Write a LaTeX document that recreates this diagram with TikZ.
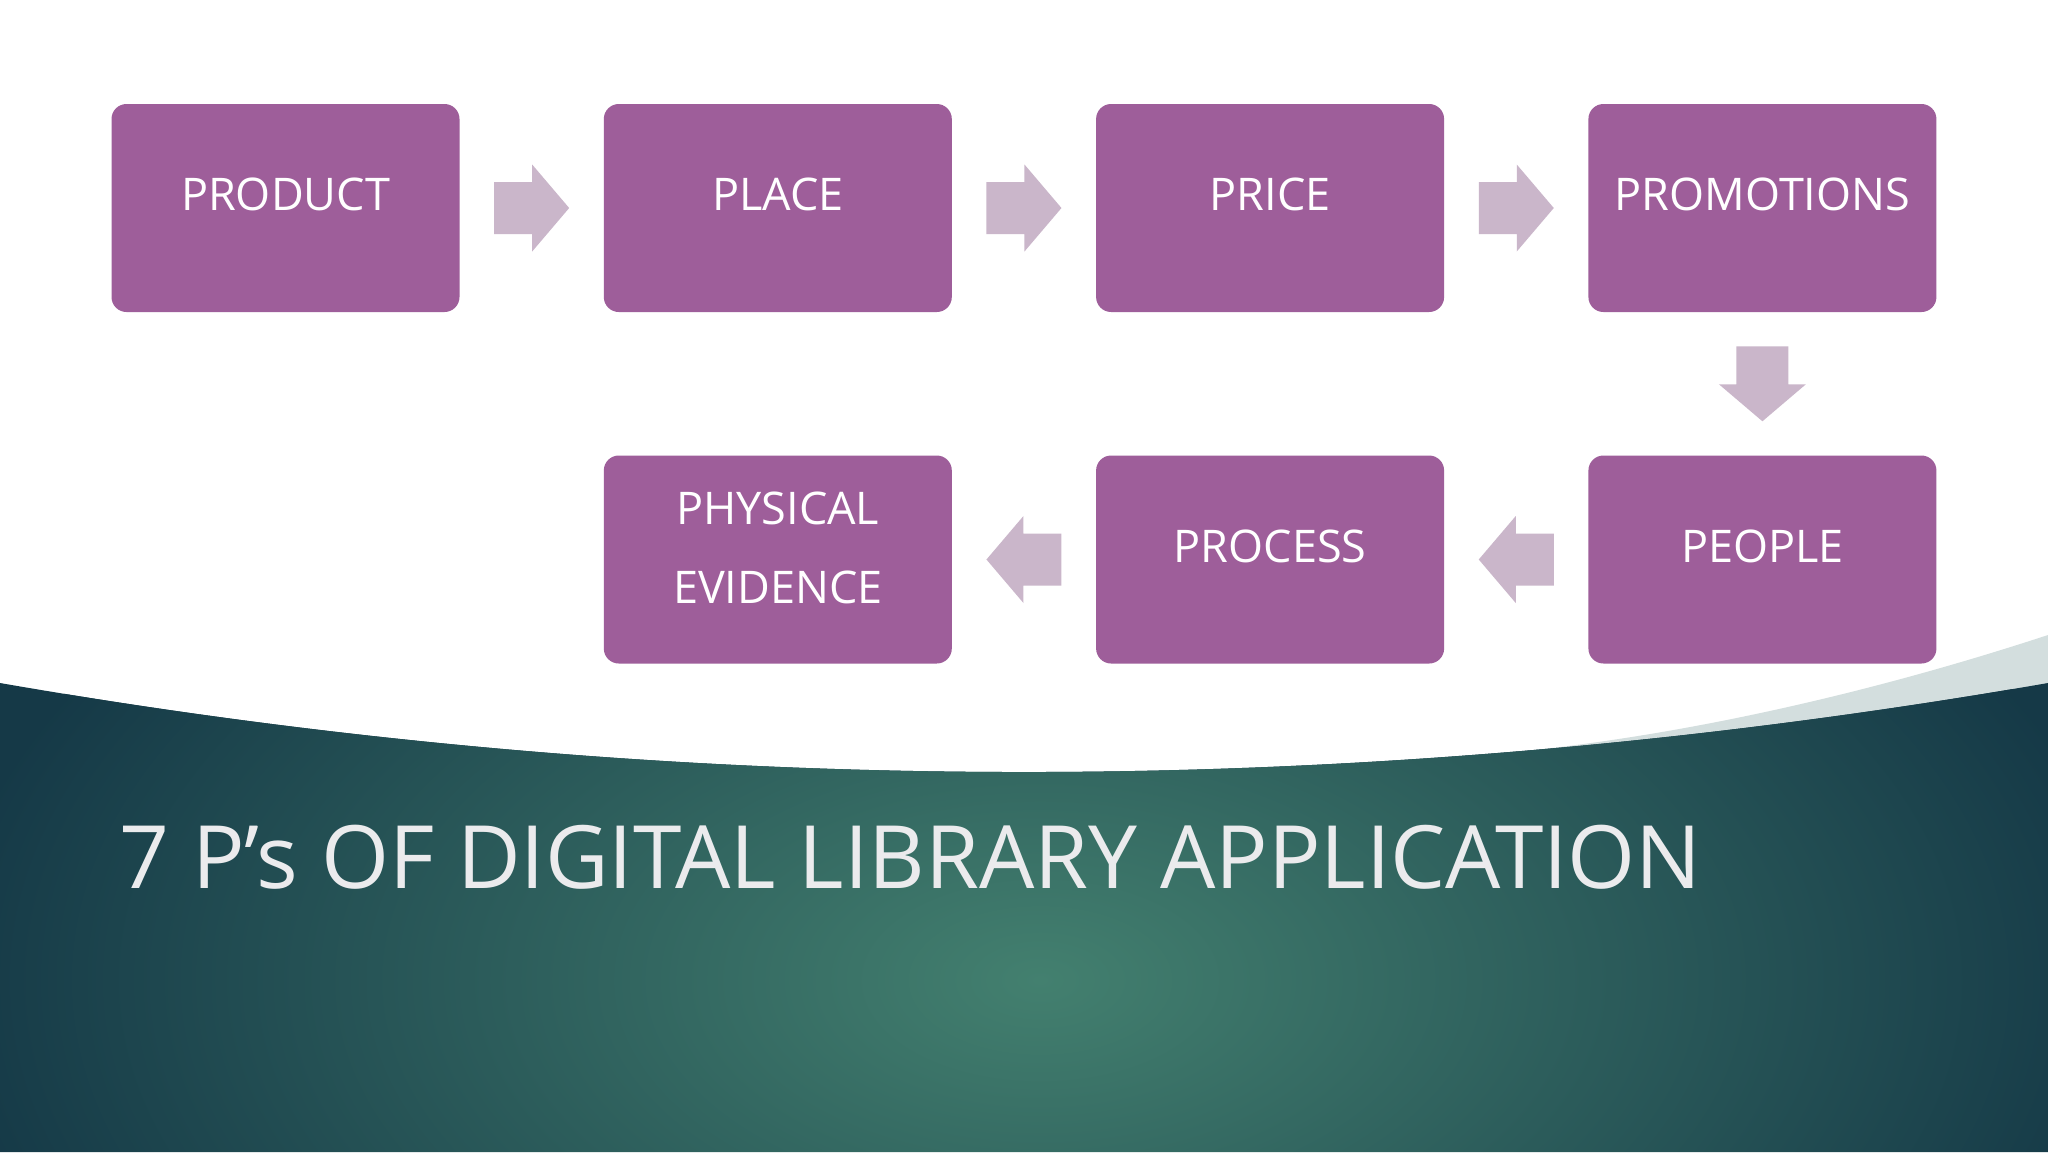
\documentclass[tikz,border=0pt]{standalone}
\usepackage{fontspec}
\setmainfont{Open Sans}
\usetikzlibrary{calc}
\definecolor{boxc}{HTML}{9E5E9A}
\definecolor{arrc}{HTML}{CAB6CA}
\definecolor{tealdark}{HTML}{153947}
\definecolor{teallight}{HTML}{43806F}
\definecolor{bandc}{HTML}{D3DEDE}
\definecolor{titlec}{HTML}{EBEBED}
\tikzset{
  pbox/.style={fill=boxc, rounded corners=7.5pt, minimum width=174pt, minimum height=104pt, inner sep=0pt},
  plabel/.style={text=white, font=\fontsize{22.5}{39.5}\selectfont, align=center, inner sep=0pt},
  parrow/.style={fill=arrc},
  ptitle/.style={text=titlec, font=\fontsize{43.7}{50}\selectfont, inner sep=0pt, anchor=base west},
}
\newcommand\pparrow[3]{\fill[parrow, shift={($(#1)!0.5!(#2)$)}, rotate=#3]
  (-37.5,-26) -- (0.5,-26) -- (0.5,-43.5) -- (37.5,0) -- (0.5,43.5) -- (0.5,26) -- (-37.5,26) -- cycle;}
\begin{document}
\begin{tikzpicture}[x=0.5pt, y=-0.5pt]
\useasboundingbox (0,0) rectangle (2048,1152);
\fill[white] (0,0) rectangle (2048,1152);
% light band
\fill[bandc] (1480,755) .. controls (1650,742) and (1850,700) .. (2048,635) -- (2048,700) -- (1480,770) -- cycle;
% dark region
\begin{scope}
  \clip (0,683) .. controls (682.7,801.7) and (1365.3,801.7) .. (2048,683) -- (2048,1152) -- (0,1152) -- cycle;
  \fill[tealdark] (0,600) rectangle (2048,1152);
  \shade[inner color=teallight, outer color=tealdark] (1040,980) ellipse (1100 and 620);
\end{scope}
% boxes
\node[pbox] (b1) at (285.5,208) {};
\node[pbox] (b2) at (777.8,208) {};
\node[pbox] (b3) at (1270.1,208) {};
\node[pbox] (b4) at (1762.4,208) {};
\node[pbox] (b5) at (1762.4,559.5) {};
\node[pbox] (b6) at (1270.1,559.5) {};
\node[pbox] (b7) at (777.8,559.5) {};
\node[plabel] (t1) at ($(b1.center)+(0,-14)$) {PRODUCT};
\node[plabel] (t2) at ($(b2.center)+(0,-14)$) {PLACE};
\node[plabel] (t3) at ($(b3.center)+(0,-14)$) {PRICE};
\node[plabel] (t4) at ($(b4.center)+(0,-14)$) {PROMOTIONS};
\node[plabel] (t5) at ($(b5.center)+(0,-13)$) {PEOPLE};
\node[plabel] (t6) at ($(b6.center)+(0,-13)$) {PROCESS};
\node[plabel] (t7) at ($(b7.center)+(0,-12)$) {PHYSICAL\\EVIDENCE};
% arrows
\pparrow{b1.east}{b2.west}{0}
\pparrow{b2.east}{b3.west}{0}
\pparrow{b3.east}{b4.west}{0}
\pparrow{b4.south}{b5.north}{-90}
\pparrow{b5.west}{b6.east}{180}
\pparrow{b6.west}{b7.east}{180}
% title
\node[ptitle] (title) at (119,888) {7 P’s OF DIGITAL LIBRARY APPLICATION};
\end{tikzpicture}
\end{document}
